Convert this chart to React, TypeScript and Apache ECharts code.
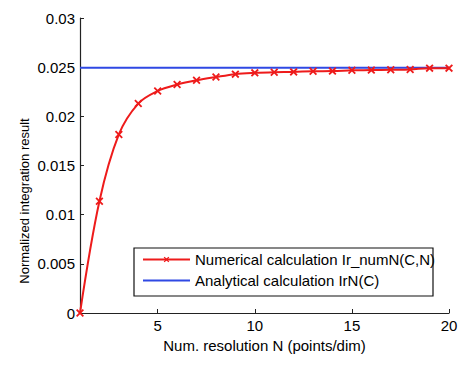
import React, { useEffect, useRef } from "react";
import * as echarts from "echarts";

const resolutionN = [1, 2, 3, 4, 5, 6, 7, 8, 9, 10, 11, 12, 13, 14, 15, 16, 17, 18, 19, 20];
const numericalValues = [
  0, 0.01136, 0.01816, 0.0213, 0.02258, 0.02323, 0.02367, 0.024, 0.02429, 0.02442,
  0.02449, 0.02452, 0.02459, 0.0246, 0.02468, 0.0247, 0.02473, 0.02476, 0.0249, 0.0249,
];
const analyticalValue = 0.02495;
const xTickValues = [5, 10, 15, 20];
const seriesNames = ["Numerical calculation Ir_numN(C,N)", "Analytical calculation IrN(C)"];
const xAxisTitle = "Num. resolution N (points/dim)";
const yAxisTitle = "Normalized integration result";

const FONT = "'Liberation Sans', Arial, Helvetica, sans-serif";
const RED = "#ee1b1b";
const BLUE = "#2f49e4";
const X_SYMBOL =
  "path://M0,1.6L1.6,0L5,3.4L8.4,0L10,1.6L6.6,5L10,8.4L8.4,10L5,6.6L1.6,10L0,8.4L3.4,5Z";

export default function App() {
  const ref = useRef<HTMLDivElement>(null);
  useEffect(() => {
    if (!ref.current) return;
    const chart = echarts.init(ref.current, undefined, { renderer: "svg" });
    const numData = resolutionN.map((n, i) => [n, numericalValues[i]]);
    const anaData = resolutionN.map((n) => [n, analyticalValue]);
    chart.setOption({
      animation: false,
      backgroundColor: "#ffffff",
      textStyle: { fontFamily: FONT },
      grid: { left: 80, right: 25, top: 18, bottom: 54 },
      xAxis: {
        type: "value",
        min: 1,
        max: 20,
        name: xAxisTitle,
        nameLocation: "middle",
        nameGap: 23,
        nameTextStyle: { fontSize: 15, color: "#000", fontFamily: FONT },
        axisLine: { show: true, lineStyle: { color: "#222", width: 1.2 } },
        axisTick: { show: true, inside: true, length: 4, customValues: xTickValues, lineStyle: { color: "#222" } },
        axisLabel: { customValues: xTickValues, fontSize: 15, color: "#000", margin: 5, fontFamily: FONT },
        splitLine: { show: false },
      },
      yAxis: {
        type: "value",
        min: 0,
        max: 0.03,
        interval: 0.005,
        axisLine: { show: true, lineStyle: { color: "#222", width: 1.2 } },
        axisTick: { show: true, inside: true, length: 4, lineStyle: { color: "#222" } },
        axisLabel: { fontSize: 15, color: "#000", margin: 5, fontFamily: FONT },
        splitLine: { show: false },
      },
      legend: {
        orient: "vertical",
        left: 142,
        top: 252,
        padding: 0,
        itemWidth: 47,
        itemHeight: 7,
        itemGap: 6,
        textStyle: { fontSize: 15, color: "#000", fontFamily: FONT },
        data: [
          { name: seriesNames[0] },
          { name: seriesNames[1], itemStyle: { opacity: 0 } },
        ],
      },
      graphic: [
        {
          type: "rect",
          shape: { x: 134, y: 248, width: 299, height: 48 },
          style: { fill: "none", stroke: "#111", lineWidth: 1.2 },
          z: 100,
        },
        {
          type: "text",
          x: 24,
          y: 201,
          rotation: Math.PI / 2,
          style: {
            text: yAxisTitle,
            fontSize: 13,
            fontFamily: FONT,
            fill: "#000",
            align: "center",
            verticalAlign: "middle",
          },
        },
      ],
      series: [
        {
          name: seriesNames[1],
          type: "line",
          data: anaData,
          symbol: "none",
          lineStyle: { color: BLUE, width: 2 },
          itemStyle: { color: BLUE },
          z: 2,
        },
        {
          name: seriesNames[0],
          type: "line",
          data: numData,
          smooth: 0.35,
          symbol: X_SYMBOL,
          symbolSize: 8,
          lineStyle: { color: RED, width: 2 },
          itemStyle: { color: RED },
          z: 3,
        },
      ],
    });
    return () => chart.dispose();
  }, []);
  return (
    <div
      ref={ref}
      style={{ position: "fixed", left: 0, top: 0, width: 474, height: 367, background: "#fff" }}
    />
  );
}
